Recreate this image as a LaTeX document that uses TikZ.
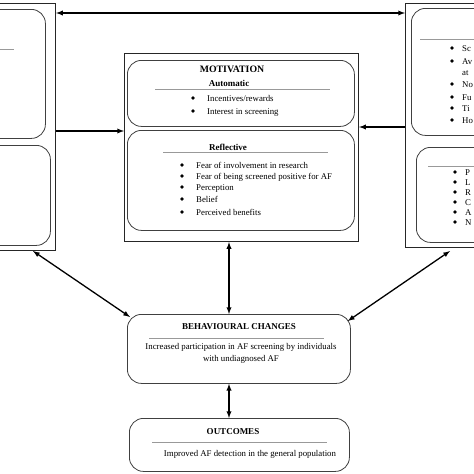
\documentclass[tikz,border=0pt]{standalone}
\usepackage{fontspec}
\setmainfont{Liberation Serif}
\usetikzlibrary{arrows}

\tikzset{
  outer/.style={draw=black!85,line width=1.1pt,inner sep=0pt,anchor=north west},
  inbox/.style={draw=black!75,line width=0.8pt,rounded corners=14pt,inner sep=0pt,anchor=north west},
  divider/.style={draw=black!40,line width=0.9pt},
  title/.style={font=\fontsize{9}{10}\selectfont\bfseries,inner sep=0pt},
  item/.style={font=\fontsize{8.8}{10}\selectfont,anchor=base west,inner sep=0pt,yshift=-3pt},
  link/.style={draw=black,line width=1.3pt,>=latex},
}
\newcommand{\dotat}[2]{\fill (#1,#2) circle (1.9pt);}

\begin{document}
\begin{tikzpicture}[x=1pt,y=-1pt]
      \useasboundingbox (0,0) rectangle (474,474);
      \clip (0,0) rectangle (474,474);
      % left column
      \node[outer,minimum width=60,minimum height=247] (lbox) at (-5,3) {};
      \node[inbox,minimum width=65,minimum height=129] (lupper) at (-20,9) {};
      \node[inbox,minimum width=70,minimum height=100] (llower) at (-20,145) {};
      \draw[divider] (0,49) -- (14,49);
      % right column
      \node[outer,minimum width=80,minimum height=244] (rbox) at (405,3) {};
      \node[inbox,minimum width=80,minimum height=127] (rupper) at (411,8) {};
      \node[inbox,minimum width=75,minimum height=95] (rlower) at (416,147) {};
      \draw[divider] (420,39) -- (480,39);
      \draw[divider] (428,166) -- (480,166);
      \foreach \y/\t [count=\i] in {48/Sc,61/Av,84/No,97/Fu,108/Ti,120/Ho}{
        \dotat{452}{\y}
        \node[item] (rtop-\i) at (462,\y) {\t};
      }
      \node[item] (rtop-at) at (462,72) {at};
      \foreach \y/\t [count=\i] in {172/P,182/L,192/R,202/C,212/A,222/N}{
        \dotat{455}{\y}
        \node[item] (rbot-\i) at (465,\y) {\t};
      }
      % motivation
      \node[outer,minimum width=234,minimum height=188] (mbox) at (124,53) {};
      \node[inbox,minimum width=227,minimum height=66] (auto) at (127,60) {};
      \node[inbox,minimum width=227,minimum height=100] (refl) at (127,130) {};
      \node[title,font=\fontsize{9.8}{11}\selectfont\bfseries] (mtitle) at (232,69) {MOTIVATION};
      \node[title] (atitle) at (229,83) {Automatic};
      \draw[divider] (155,89) -- (330,89);
      \foreach \y/\t [count=\i] in {98/{Incentives/rewards},111/{Interest in screening}}{
        \dotat{193}{\y}
        \node[item] (auto-\i) at (207,\y) {\t};
      }
      \node[title] (rtitle) at (228,147) {Reflective};
      \draw[divider] (163,152) -- (328,152);
      \foreach \y/\t [count=\i] in {165/{Fear of involvement in research},176/{Fear of being screened positive for AF},
                                    187/Perception,199/Belief,212/{Perceived benefits}}{
        \dotat{182}{\y}
        \node[item] (refl-\i) at (196,\y) {\t};
      }
      % behavioural changes
      \node[inbox,minimum width=223,minimum height=69] (bbox) at (127,314) {};
      \node[title] (btitle) at (239,327) {BEHAVIOURAL CHANGES};
      \draw[divider] (149,338) -- (324,338);
      \node[inner sep=0pt,align=center,font=\fontsize{8.8}{12}\selectfont] (btext) at (241,353)
        {Increased participation in AF screening by individuals\\with undiagnosed AF};
      % outcomes
      \node[inbox,minimum width=220,minimum height=53] (obox) at (129,418) {};
      \node[title] (otitle) at (233,432) {OUTCOMES};
      \draw[divider] (152,442) -- (327,442);
      \node[inner sep=0pt,font=\fontsize{8.8}{10}\selectfont] (otext) at (250,454) {Improved AF detection in the general population};
      % links
      \draw[link,<->] (rbox.west |- 0,13) -- (lbox.east |- 0,13);
      \draw[link,->] (lbox.east |- 0,131) -- (mbox.west |- 0,131);
      \draw[link,->] (rbox.west |- 0,127) -- (mbox.east |- 0,127);
      \draw[link,<->] (229,0 |- mbox.south) -- (229,0 |- bbox.north);
      \draw[link,<->] (33,251) -- ([shift={(3,3)}]bbox.north west);
      \draw[link,<->] (450,251) -- ([shift={(-3,7)}]bbox.north east);
      \draw[link,<->] (229,0 |- bbox.south) -- (229,0 |- obox.north);
    \end{tikzpicture}
\end{document}
